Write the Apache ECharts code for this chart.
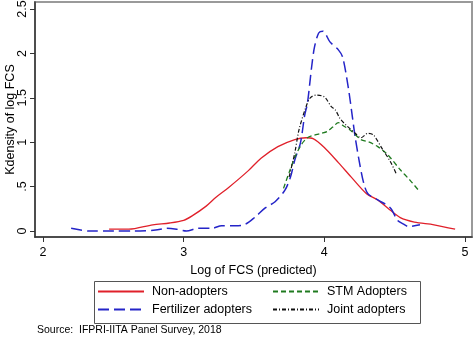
<!DOCTYPE html>
<html><head><meta charset="utf-8">
<script src="https://cdn.jsdelivr.net/npm/echarts@6/dist/echarts.min.js"></script>
<style>html,body{margin:0;padding:0;background:#fff}#c{width:474px;height:338px}</style>
</head><body><div id="c"></div>
<script>
const xTicks = [2, 3, 4, 5];
const yTicks = [0, 0.5, 1, 1.5, 2, 2.5];
const yTickLabels = ['0', '.5', '1', '1.5', '2', '2.5'];

const nonX = [2.47,2.61,2.78,2.9,3.0,3.06,3.16,3.23,3.32,3.46,3.55,3.67,3.79,3.87,3.92,4.0,4.1,4.19,4.3,4.38,4.45,4.54,4.64,4.78,4.93];
const nonY = [0.02,0.02,0.07,0.09,0.12,0.17,0.28,0.38,0.49,0.68,0.82,0.95,1.03,1.05,1.04,0.94,0.77,0.61,0.42,0.35,0.26,0.15,0.1,0.07,0.02];

const ferX = [2.2,2.33,2.5,2.65,2.8,2.88,2.95,3.02,3.1,3.2,3.27,3.36,3.43,3.51,3.58,3.65,3.72,3.76,3.79,3.83,3.86,3.88,3.91,3.93,3.96,3.99,4.04,4.1,4.13,4.17,4.2,4.22,4.25,4.28,4.31,4.38,4.47,4.52,4.56,4.6,4.68];
const ferY = [0.03,0.0,0.0,0.0,0.01,0.03,0.02,0.0,0.03,0.03,0.06,0.06,0.07,0.16,0.26,0.33,0.46,0.61,0.8,0.99,1.3,1.44,1.85,2.07,2.23,2.25,2.13,2.04,1.96,1.62,1.28,1.05,0.77,0.54,0.42,0.35,0.26,0.12,0.08,0.05,0.07];

const stmX = [3.71,3.75,3.79,3.84,3.88,3.93,3.98,4.02,4.06,4.1,4.14,4.19,4.26,4.32,4.38,4.45,4.54,4.61,4.68];
const stmY = [0.48,0.66,0.83,0.98,1.05,1.08,1.1,1.12,1.17,1.22,1.18,1.13,1.03,1.0,0.95,0.86,0.69,0.57,0.44];

const jointX = [3.75,3.79,3.82,3.87,3.9,3.94,4.0,4.05,4.08,4.11,4.15,4.22,4.26,4.31,4.35,4.41,4.47,4.51];
const jointY = [0.61,0.88,1.14,1.4,1.5,1.53,1.51,1.4,1.36,1.27,1.2,1.1,1.05,1.1,1.08,0.93,0.78,0.65];

const zip = (a, b) => a.map((v, i) => [v, b[i]]);
const font = 'Liberation Sans, Arial, sans-serif';

const chart = echarts.init(document.getElementById('c'));
const mkLegend = (name, left, top) => ({
  data: [name], left: left, top: top, padding: 0, itemWidth: 46, itemHeight: 14,
  itemStyle: { opacity: 0 },
  textStyle: { fontFamily: font, fontSize: 12.5, color: '#000', padding: [0, 0, 0, 3] },
  selectedMode: false
});
chart.setOption({
  animation: false,
  backgroundColor: '#fff',
  grid: { left: 35, right: 2, top: 2, bottom: 101, show: true, borderColor: '#9a9a9a', borderWidth: 2,
    outerBoundsMode: 'none', containLabel: false },
  xAxis: {
    type: 'value', min: 1.943, max: 5.05,
    name: 'Log of FCS (predicted)', nameLocation: 'middle', nameGap: 22,
    nameTextStyle: { fontFamily: font, fontSize: 12.5, color: '#000' },
    axisLine: { show: true, onZero: false, lineStyle: { color: '#333', width: 1.5 } },
    axisTick: { show: true, length: 5, customValues: xTicks, lineStyle: { color: '#333' } },
    axisLabel: { customValues: xTicks, margin: 9, fontFamily: font, fontSize: 12.5, color: '#000' },
    splitLine: { show: false }
  },
  yAxis: {
    type: 'value', min: -0.0676, max: 2.579,
    name: 'Kdensity of log FCS', nameLocation: 'middle', nameGap: 18, nameRotate: 90, nameMoveOverlap: false,
    nameTextStyle: { fontFamily: font, fontSize: 12.5, color: '#000' },
    axisLine: { show: true, onZero: false, lineStyle: { color: '#333', width: 1.5 } },
    axisTick: { show: true, length: 5, customValues: yTicks, lineStyle: { color: '#333' } },
    axisLabel: { customValues: yTicks, rotate: 90, margin: 6, fontFamily: font, fontSize: 12.5, color: '#000',
      formatter: v => yTickLabels[yTicks.indexOf(Math.round(v * 10) / 10)] ?? '' },
    splitLine: { show: false }
  },
  legend: [
    mkLegend('Non-adopters', 97, 285),
    mkLegend('Fertilizer adopters', 97, 303),
    mkLegend('STM Adopters', 272, 285),
    mkLegend('Joint adopters', 272, 303)
  ],
  graphic: [
    { type: 'rect', left: 92, top: 279, shape: { width: 326, height: 42 }, style: { fill: 'none', stroke: '#555', lineWidth: 1 } },
    { type: 'text', left: 37, top: 325, style: { text: 'Source:  IFPRI-IITA Panel Survey, 2018', fontFamily: font, fontSize: 10.5, fill: '#000' } }
  ],
  series: [
    { name: 'Non-adopters', type: 'line', data: zip(nonX, nonY), symbol: 'none', smooth: 0.3,
      lineStyle: { color: '#e0202a', width: 1.3 }, itemStyle: { color: '#e0202a' }, z: 2 },
    { name: 'Fertilizer adopters', type: 'line', data: zip(ferX, ferY), symbol: 'none', smooth: 0.3,
      lineStyle: { color: '#2424c8', width: 1.5, type: [11, 5] }, itemStyle: { color: '#2424c8' }, z: 3 },
    { name: 'STM Adopters', type: 'line', data: zip(stmX, stmY), symbol: 'none', smooth: 0.3,
      lineStyle: { color: '#1f7a1f', width: 1.3, type: [5, 3] }, itemStyle: { color: '#1f7a1f' }, z: 4 },
    { name: 'Joint adopters', type: 'line', data: zip(jointX, jointY), symbol: 'none', smooth: 0.3,
      lineStyle: { color: '#111', width: 1.2, type: [4, 2, 1, 2] }, itemStyle: { color: '#111' }, z: 5 }
  ]
});
</script></body></html>
